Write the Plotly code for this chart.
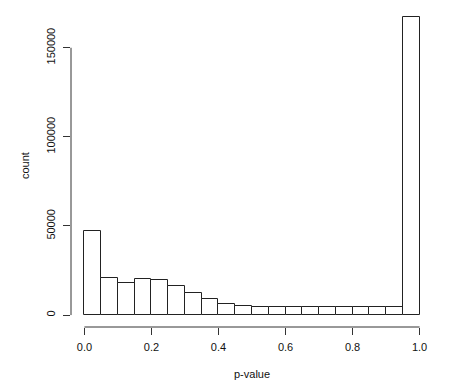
import plotly.graph_objects as go

# Histogram of p-values: bin edges every 0.05 from 0 to 1
bin_starts = [0.00, 0.05, 0.10, 0.15, 0.20, 0.25, 0.30, 0.35, 0.40, 0.45,
              0.50, 0.55, 0.60, 0.65, 0.70, 0.75, 0.80, 0.85, 0.90, 0.95]
bin_width = 0.05
counts = [47200, 21000, 18100, 20300, 19900, 16200, 12500, 9100, 6200, 5050,
          4650, 4450, 4350, 4350, 4350, 4350, 4350, 4350, 4350, 167300]

x_tick_vals = [0.0, 0.2, 0.4, 0.6, 0.8, 1.0]
x_tick_text = ["0.0", "0.2", "0.4", "0.6", "0.8", "1.0"]
y_tick_vals = [0, 50000, 100000, 150000]
y_tick_text = ["0", "50000", "100000", "150000"]

centers = [s + bin_width / 2 for s in bin_starts]
ymax = max(counts)
ypad = ymax * 0.04

font = dict(family="Liberation Sans, Arial, sans-serif", size=11, color="#111111")

fig = go.Figure(go.Bar(
    x=centers, y=counts, width=bin_width,
    marker=dict(color="white", line=dict(color="#222222", width=1)),
    hoverinfo="skip",
))

fig.update_layout(
    width=474, height=386,
    margin=dict(l=71, r=41, t=5, b=59),
    paper_bgcolor="white", plot_bgcolor="white",
    showlegend=False, bargap=0,
    font=font,
    xaxis=dict(range=[-0.04, 1.04], showgrid=False, zeroline=False, showline=False,
               tickmode="array", tickvals=x_tick_vals, ticktext=x_tick_text,
               ticks="outside", ticklen=7, tickwidth=1, tickcolor="#333333",
               ticklabelstandoff=3, tickfont=font),
    yaxis=dict(range=[-ypad, ymax + ypad], showgrid=False, zeroline=False, showline=False,
               tickmode="array", tickvals=y_tick_vals, ticktext=y_tick_text,
               ticks="outside", ticklen=7, tickwidth=1, tickcolor="#333333",
               tickangle=-90, ticklabelstandoff=4, tickfont=font),
    shapes=[
        dict(type="line", xref="x", yref="paper", x0=x_tick_vals[0], x1=x_tick_vals[-1],
             y0=0, y1=0, line=dict(color="#333333", width=1)),
        dict(type="line", xref="paper", yref="y", x0=0, x1=0,
             y0=y_tick_vals[0], y1=y_tick_vals[-1], line=dict(color="#333333", width=1)),
    ],
    annotations=[
        dict(text="p-value", xref="x", yref="paper", x=0.5, y=0, yanchor="middle",
             yshift=-47, showarrow=False, font=font),
        dict(text="count", xref="paper", yref="paper", x=0, y=0.5, xanchor="center",
             xshift=-46, textangle=-90, showarrow=False, font=font),
    ],
)

fig.write_html("out.html", config={"displayModeBar": False},
               post_script="document.body.style.margin='0';document.body.style.padding='0';")
